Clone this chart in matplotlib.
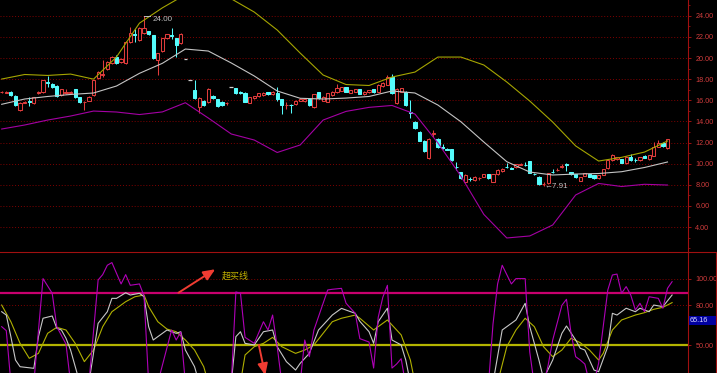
import matplotlib
matplotlib.use("Agg")
import matplotlib.pyplot as plt
from matplotlib.lines import Line2D
from matplotlib.patches import Rectangle
from matplotlib.ticker import MultipleLocator
import numpy as np

# ---- daily candles ----
opens = [16.75, 16.72, 16.80, 16.43, 15.07, 15.75, 15.92, 15.71, 16.68, 16.75,
         17.70, 17.54, 17.35, 16.50, 16.65, 16.70, 17.04, 16.28, 15.84, 15.93,
         16.50, 18.10, 18.35, 19.00, 19.50, 20.07, 19.60, 19.50, 21.50, 22.30,
         21.70, 22.35, 22.55, 22.17, 19.80, 20.70, 21.86, 22.20, 21.86, 21.40,
         19.87, 17.90, 16.97, 15.35, 15.96, 15.80, 16.40, 16.09, 15.80, 15.74,
         17.25, 17.19, 16.80, 16.71, 15.77, 16.18, 16.40, 16.50, 16.75, 16.57,
         16.71, 16.09, 15.53, 15.57, 15.62, 15.93, 15.90, 16.09, 15.33, 16.75,
         15.93, 15.86, 16.50, 16.75, 16.90, 17.28, 16.71, 16.80, 17.07, 16.56,
         16.75, 17.04, 16.80, 17.35, 17.44, 18.23, 15.71, 16.80, 16.80, 14.90,
         13.97, 13.00, 12.15, 10.50, 12.85, 12.33, 11.58, 11.38, 11.36, 9.73,
         9.18, 8.24, 8.57, 8.45, 8.60, 8.77, 9.00, 8.30, 9.00, 9.30,
         9.70, 9.58, 9.66, 9.92, 9.89, 10.28, 9.04, 8.77, 8.08, 8.14,
         9.26, 9.38, 9.70, 10.00, 9.18, 9.02, 8.39, 8.86, 9.00, 8.93,
         8.62, 8.93, 9.56, 10.35, 10.41, 10.41, 10.04, 10.60, 10.37, 10.35,
         10.73, 10.41, 10.73, 11.60, 11.98, 11.45]
closes = [16.80, 16.78, 16.50, 15.55, 15.74, 15.85, 15.82, 16.28, 16.78, 17.92,
          17.60, 17.22, 16.40, 17.04, 16.75, 16.82, 16.28, 15.80, 15.88, 16.34,
          17.92, 18.70, 18.50, 19.60, 20.10, 19.50, 19.90, 21.54, 22.35, 22.15,
          22.80, 22.80, 22.27, 20.00, 20.44, 21.86, 22.25, 22.10, 21.23, 22.30,
          19.87, 17.90, 16.18, 16.25, 15.60, 17.10, 16.18, 15.46, 15.60, 15.78,
          17.25, 16.66, 16.66, 15.86, 16.28, 16.40, 16.66, 16.70, 16.56, 16.80,
          16.12, 15.55, 15.57, 15.53, 15.96, 16.12, 16.10, 15.55, 16.56, 16.18,
          16.34, 16.66, 16.80, 17.13, 17.22, 16.80, 16.97, 17.07, 16.60, 16.80,
          16.97, 16.75, 17.44, 17.66, 18.23, 16.66, 17.10, 17.13, 15.55, 14.82,
          13.35, 12.15, 11.20, 12.33, 12.90, 11.55, 11.52, 11.34, 10.35, 9.69,
          8.62, 8.93, 8.53, 8.77, 8.64, 9.00, 8.62, 9.00, 9.40, 9.50,
          9.64, 9.54, 9.94, 9.96, 9.85, 9.14, 9.00, 8.08, 8.12, 9.09,
          9.22, 9.42, 9.74, 9.85, 9.02, 8.71, 8.71, 9.09, 8.77, 8.62,
          8.93, 9.47, 10.35, 10.82, 10.60, 10.09, 10.66, 10.35, 10.33, 10.60,
          10.57, 10.82, 11.60, 11.93, 11.67, 12.30]
highs = [16.90, 16.90, 16.85, 16.50, 15.80, 15.90, 16.30, 16.30, 16.85, 17.95,
         18.30, 17.60, 17.40, 17.10, 17.10, 16.90, 17.10, 16.30, 15.95, 16.40,
         17.95, 18.80, 19.80, 19.70, 20.20, 20.30, 20.00, 21.60, 22.96, 22.70,
         22.90, 24.00, 22.60, 22.20, 20.50, 21.90, 22.30, 22.85, 21.90, 22.40,
         19.87, 17.90, 17.90, 16.35, 16.00, 17.15, 16.50, 16.10, 15.90, 15.85,
         17.25, 17.20, 16.85, 16.75, 16.30, 16.45, 16.70, 16.75, 16.80, 16.85,
         17.30, 16.10, 15.80, 15.65, 16.00, 16.20, 16.15, 16.10, 16.60, 16.80,
         16.40, 16.70, 16.85, 17.54, 17.25, 17.30, 17.00, 17.10, 17.10, 16.85,
         17.00, 17.10, 17.50, 17.70, 18.40, 18.50, 17.15, 17.20, 16.85, 16.00,
         14.00, 13.05, 12.20, 12.40, 13.20, 12.40, 11.90, 11.50, 11.40, 10.20,
         9.20, 9.00, 8.70, 8.80, 8.75, 9.05, 9.05, 9.05, 9.45, 9.55,
         10.05, 9.70, 9.98, 10.05, 10.20, 10.30, 9.10, 8.80, 8.30, 9.15,
         9.50, 9.55, 9.95, 10.05, 9.25, 9.05, 8.75, 9.12, 9.05, 8.95,
         8.97, 9.50, 10.40, 10.95, 10.65, 10.45, 10.70, 10.95, 10.55, 10.65,
         10.78, 10.86, 12.05, 12.20, 12.02, 12.35]
lows = [16.70, 16.65, 16.45, 15.50, 15.00, 15.70, 15.50, 15.65, 16.60, 16.70,
        17.30, 17.15, 16.30, 16.45, 16.60, 16.65, 16.25, 15.75, 15.08, 15.90,
        16.45, 18.00, 18.25, 18.90, 19.40, 19.45, 19.50, 19.45, 21.45, 21.50,
        21.60, 22.30, 22.20, 19.95, 18.40, 20.60, 21.80, 21.80, 20.10, 21.30,
        19.87, 17.90, 16.10, 14.80, 15.50, 15.75, 16.10, 15.40, 15.50, 15.60,
        17.25, 16.60, 16.60, 15.80, 15.70, 16.10, 16.35, 16.45, 16.50, 16.50,
        15.90, 14.67, 15.20, 14.80, 15.55, 15.90, 15.85, 15.50, 15.30, 16.10,
        15.90, 15.80, 16.45, 16.70, 16.85, 16.75, 16.65, 16.75, 16.55, 16.50,
        16.70, 16.70, 16.75, 17.30, 17.40, 16.60, 15.65, 16.75, 15.50, 14.30,
        13.30, 12.10, 11.15, 10.40, 12.50, 11.50, 11.40, 11.25, 10.30, 9.40,
        8.55, 8.20, 8.40, 8.40, 8.50, 8.70, 8.55, 8.25, 8.95, 9.25,
        9.60, 9.45, 9.60, 9.85, 9.80, 9.10, 8.90, 8.00, 7.91, 8.10,
        9.15, 9.30, 9.60, 9.30, 8.95, 8.65, 8.35, 8.80, 8.70, 8.58,
        8.58, 8.90, 9.50, 10.30, 10.35, 10.05, 10.00, 10.30, 10.15, 10.30,
        10.50, 10.35, 10.70, 11.55, 11.62, 11.40]

# ---- bollinger bands, sampled every 5 candles ----
band_idx = list(range(0, 146, 5))
band_upper = [18.01, 18.44, 18.35, 18.48, 18.00, 20.10, 23.30, 24.75, 26.00, 27.20,
              25.60, 24.35, 22.65, 20.47, 18.39, 17.49, 17.40, 18.20, 18.67, 20.09,
              20.09, 19.34, 17.73, 15.93, 13.94, 11.68, 10.25, 10.60, 11.10, 12.15]
band_mid = [15.62, 16.12, 16.36, 16.55, 16.69, 17.35, 18.55, 19.50, 20.85, 20.66,
            19.53, 18.30, 16.88, 16.19, 16.12, 16.21, 16.36, 16.88, 16.69, 15.55,
            13.97, 12.05, 10.19, 9.21, 8.93, 9.02, 9.07, 9.24, 9.64, 10.16]
band_lower = [13.28, 13.66, 14.13, 14.51, 14.98, 14.89, 14.65, 14.90, 15.77, 14.32,
              12.81, 12.24, 11.06, 11.77, 14.13, 14.95, 15.33, 15.51, 14.70, 11.96,
              8.83, 5.20, 2.97, 3.16, 4.20, 7.04, 8.13, 7.84, 8.05, 7.98]

# ---- KDJ (candle index, value) ----
j_idx = [0, 1, 2, 7, 9, 11, 12, 14, 15, 19, 21, 22, 23, 24, 26, 27, 28, 30, 31, 32,
         34, 37, 38, 39, 40, 50, 51, 52, 53, 55, 57, 58, 59, 60, 61, 65, 66, 67, 68, 71,
         72, 74, 75, 77, 78, 80, 81, 82, 83, 84, 85, 86, 87, 88, 106, 107, 108, 109, 110, 111,
         112, 113, 114, 115, 116, 118, 119, 120, 122, 123, 124, 125, 126, 127, 128, 129, 130, 132, 133, 134,
         135, 136, 137, 138, 139, 140, 141, 143, 144, 145, 146]
j_val = [64, 61, 22, 22, 100, 89, 64, 51, 22, 22, 99, 103, 110, 112, 96, 103, 95, 96, 87, 22,
         22, 61.5, 54, 60, 22, 22, 90, 89, 56, 51.5, 67.7, 61.5, 72.7, 49, 22, 22, 54, 41.5, 61.5, 91.5,
         92, 92.7, 81.5, 74, 55, 52.5, 33, 71, 86, 95, 33, 36, 40, 20, 20, 66, 96, 110, 103, 96,
         100, 100, 100, 45, 20, 20, 35, 54, 80, 84.5, 59, 41.5, 39, 36, 22, 22, 36.6, 91.5, 102.7, 103.4,
         89, 94, 87.7, 76.5, 81.5, 75.2, 86.4, 85.2, 77.8, 92.7, 97.7]
k_idx = [0, 1, 2, 3, 4, 7, 8, 9, 11, 12, 13, 14, 15, 17, 19, 21, 23, 24, 25, 27,
         28, 30, 31, 32, 33, 35, 36, 38, 39, 40, 42, 43, 50, 51, 52, 53, 55, 57, 59, 60,
         62, 64, 65, 67, 69, 72, 74, 76, 77, 78, 80, 81, 82, 84, 85, 87, 88, 89, 107, 109,
         112, 114, 115, 117, 118, 120, 122, 123, 125, 126, 127, 129, 130, 132, 133, 134, 136, 138, 139, 141,
         142, 144, 146]
k_val = [75.2, 72.7, 56.5, 39, 34, 32.8, 56.5, 70.3, 72, 62.8, 61.5, 55.3, 46.5, 22, 22, 66.5, 75.2, 85.2, 85.2, 89.4,
         87.7, 89, 86.4, 64, 54, 59, 61.5, 59, 60.2, 46.5, 34, 22, 22, 56.5, 60.2, 51.5, 50.3, 60.2, 61.5, 49,
         37.8, 31.5, 36.5, 44, 61.5, 72.7, 77.7, 75.2, 74, 68, 60.2, 51.5, 67.7, 77.8, 54, 50.3, 39, 22, 22, 61.5,
         69, 81.5, 64, 39, 25, 39, 59, 64.5, 54, 47.8, 46.5, 31.5, 30.3, 49, 74, 72.7, 77.8, 75.2, 77.8, 75.2,
         80.2, 79, 87.7]
d_idx = [0, 2, 4, 6, 8, 10, 12, 14, 16, 18, 20, 22, 24, 27, 29, 31, 32, 34, 36, 38,
         40, 42, 44, 45, 52, 53, 55, 57, 59, 61, 64, 66, 68, 70, 72, 74, 77, 78, 81, 84,
         87, 89, 90, 108, 110, 112, 114, 116, 118, 120, 122, 124, 126, 128, 130, 131, 133, 135, 138, 140,
         142, 144, 146]
d_val = [80.2, 67.7, 51.5, 40.3, 44, 59, 63.5, 61.5, 51.5, 37.8, 46.5, 64, 75.2, 82.7, 86.4, 87.7, 79, 67.7, 62.2, 60.2,
         54, 46.5, 34, 22, 22, 42.8, 49, 51.5, 56, 49, 44, 46.5, 50.3, 59, 67.7, 70.3, 72.7, 70.3, 61.5, 69,
         57.8, 39, 22, 22, 49, 61.5, 70.3, 64, 49, 41.5, 46.5, 55.3, 52, 46.5, 39, 44, 61.5, 69, 72.7, 74.5,
         77, 78.5, 82]

price_ticks = [4, 6, 8, 10, 12, 14, 16, 18, 20, 22, 24]
kdj_ticks = [50, 80, 100]
overbought_level = 89
mid_level = 50
last_value = 65.16
overbought_label = "超买线"

# colours
RED = "#e03c3c"
CYAN = "#54fcfc"
FLAT = "#d0d0d0"
GRID = "#800000"
AXIS = "#a01010"
TICK_TXT = "#d03c3c"
GRAY_TXT = "#c0c0c0"

W, H = 717, 373
fig = plt.figure(figsize=(W / 100, H / 100), dpi=100, facecolor="black")

split_y = 251.5
axis_x = 687.7
ax = fig.add_axes([0, 1 - split_y / H, axis_x / W, split_y / H], facecolor="black")
ax2 = fig.add_axes([0, 0, axis_x / W, (H - split_y) / H], facecolor="black")

xlim = (-0.37, 149.4)
num_font = ["Liberation Sans", "DejaVu Sans"]

for a in (ax, ax2):
    a.set_xlim(*xlim)
    a.set_xticks([])
    for s in ("left", "bottom", "top"):
        a.spines[s].set_visible(False)
    a.spines["right"].set_color(AXIS)
    a.spines["right"].set_linewidth(0.8)
    a.yaxis.tick_right()
    a.tick_params(axis="y", colors=AXIS, labelcolor=TICK_TXT, labelsize=5.2,
                  length=2.5, width=0.7, pad=3)

# ---- price panel ----
ax.set_ylim(1.69, 25.49)
for p in price_ticks:
    ax.axhline(p, color=GRID, lw=0.7, ls=(0, (1, 2)), zorder=1)
ax.set_yticks(price_ticks)
ax.set_yticklabels([f"{p:.2f}" for p in price_ticks], family=num_font)
ax.yaxis.set_minor_locator(MultipleLocator(1))
ax.tick_params(axis="y", which="minor", colors=AXIS, length=1.5, width=0.6)

x = np.arange(len(opens))
o = np.array(opens)
c = np.array(closes)
h = np.array(highs)
l = np.array(lows)
up = c > o
down = c < o
flat = c == o

wick_cols = np.where(up, RED, np.where(down, CYAN, FLAT))
ax.vlines(x, l, h, colors=wick_cols, lw=0.75, zorder=2)
body = np.abs(c - o)
base = np.minimum(o, c)
ax.bar(x[up], body[up], bottom=base[up], width=0.7, facecolor="black",
       edgecolor=RED, linewidth=0.75, zorder=3)
ax.bar(x[down], body[down], bottom=base[down], width=0.7, facecolor=CYAN,
       edgecolor=CYAN, linewidth=0.75, zorder=3)
ax.hlines(o[flat], x[flat] - 0.4, x[flat] + 0.4, colors=FLAT, lw=0.9, zorder=3)

ax.plot(band_idx, band_upper, color="#a5a500", lw=0.8, zorder=4)
ax.plot(band_idx, band_mid, color="#c4c4c4", lw=0.8, zorder=4)
ax.plot(band_idx, band_lower, color="#a400a4", lw=0.8, zorder=4)

# high / low markers
i_hi = int(np.argmax(h))
i_lo = int(np.argmin(l))
ax.plot([i_hi, i_hi + 1.3], [h[i_hi], h[i_hi]], color=GRAY_TXT, lw=0.7, zorder=5)
ax.text(i_hi + 1.8, h[i_hi] - 0.38, f"{h[i_hi]:.2f}", color=GRAY_TXT,
        fontsize=5.8, family=num_font, va="center", ha="left", zorder=5)
ax.text(i_lo + 0.1, l[i_lo] - 0.05, f"\u2190{l[i_lo]:.2f}", color=GRAY_TXT,
        fontsize=5.8, family=num_font, va="center", ha="left", zorder=5)

# ---- KDJ panel ----
ax2.set_ylim(29.29, 120.3)
for v in (100, 80):
    ax2.axhline(v, color=GRID, lw=0.7, ls=(0, (1, 2)), zorder=1)
ax2.set_yticks(kdj_ticks)
ax2.set_yticklabels([f"{v:.2f}" for v in kdj_ticks], family=num_font)

ax2.axhline(overbought_level, color="#c8006e", lw=1.6, zorder=2)
ax2.axhline(mid_level, color="#b4b400", lw=1.6, zorder=2)
ax2.plot(d_idx, d_val, color="#b0b000", lw=0.8, zorder=3)
ax2.plot(k_idx, k_val, color="#c8c8c8", lw=0.8, zorder=4)
ax2.plot(j_idx, j_val, color="#b000b8", lw=0.8, zorder=5)

ax2.annotate("", xy=(46.5, 107), xytext=(38.5, 89.4),
             arrowprops=dict(arrowstyle="-|>,head_length=0.7,head_width=0.3",
                             color="#f03c32", lw=1.4, shrinkA=0, shrinkB=0),
             zorder=6)
ax2.annotate("", xy=(57.4, 27.5), xytext=(56.0, 50.3),
             arrowprops=dict(arrowstyle="-|>,head_length=0.7,head_width=0.3",
                             color="#f03c32", lw=1.4, shrinkA=0, shrinkB=0),
             zorder=6, annotation_clip=False)
ax2.text(48.0, 102, overbought_label, color="#c0b000", fontsize=6.5,
         family=["Noto Sans CJK SC", "DejaVu Sans"], va="center", ha="left", zorder=6)

# frame lines of the right-hand scale
fig.add_artist(Line2D([0, 716.5 / W], [1 - split_y / H] * 2, color=AXIS, lw=0.8))
fig.add_artist(Line2D([716.2 / W] * 2, [0, 1 - split_y / H], color=AXIS, lw=0.8))

# last value box
fig.add_artist(Rectangle((688.5 / W, 1 - 324.5 / H), 27.3 / W, 8.2 / H,
                         facecolor="#0000a0", edgecolor="none"))
fig.text(689.5 / W, 1 - 320.5 / H, f"{last_value:.2f}", color="#d8d8ff",
         fontsize=5.3, family=num_font, va="center", ha="left")

fig.savefig("out.png", dpi=100, facecolor="black")
